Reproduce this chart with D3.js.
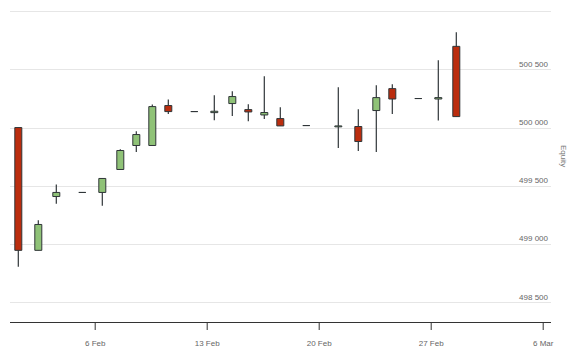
<!DOCTYPE html>
<html>
<head>
<meta charset="utf-8">
<script src="https://cdn.jsdelivr.net/npm/d3@7"></script>
<style>
  html, body { margin: 0; padding: 0; background: #fff; }
  svg { display: block; font-family: "Liberation Sans", Arial, sans-serif; }
</style>
</head>
<body>
<svg id="chart" width="580" height="360"></svg>
<script>
// ---- data ----
const dates = [
  "2023-02-01T05:24", "2023-02-02T11:24", "2023-02-03T14:24", "2023-02-05T05:24",
  "2023-02-06T11:24", "2023-02-07T14:24", "2023-02-08T14:24", "2023-02-09T14:24",
  "2023-02-10T14:24", "2023-02-12T05:24", "2023-02-13T11:24", "2023-02-14T14:24",
  "2023-02-15T14:24", "2023-02-16T14:24", "2023-02-17T14:24", "2023-02-19T05:24",
  "2023-02-21T05:24", "2023-02-22T11:24", "2023-02-23T14:24", "2023-02-24T14:24",
  "2023-02-26T05:24", "2023-02-27T11:24", "2023-02-28T14:24"
];
const opens  = [500000, 498946, 499408, 499443, 499443, 499640, 499846, 499846, 500189, 500137, 500128, 500206, 500154, 500108, 500077, 500017, 500006, 500009, 500146, 500334, 500249, 500245, 500697];
const highs  = [500000, 499205, 499511, 499443, 499563, 499814, 499968, 500197, 500240, 500137, 500277, 500311, 500200, 500440, 500174, 500017, 500346, 500157, 500363, 500371, 500249, 500577, 500817];
const lows   = [498805, 498946, 499345, 499443, 499328, 499640, 499791, 499846, 500117, 500137, 500063, 500099, 500054, 500074, 500014, 500017, 499825, 499799, 499791, 500117, 500249, 500060, 500094];
const closes = [498946, 499168, 499443, 499443, 499563, 499803, 499940, 500180, 500137, 500137, 500140, 500266, 500134, 500129, 500014, 500017, 500014, 499880, 500257, 500245, 500249, 500257, 500094];
const yTicks = [498500, 499000, 499500, 500000, 500500, 501000];
const xTickDates = ["2023-02-06", "2023-02-13", "2023-02-20", "2023-02-27", "2023-03-06"];
const yTitle = "Equity";

// ---- scales ----
const parseT = d3.utcParse("%Y-%m-%dT%H:%M");
const parseD = d3.utcParse("%Y-%m-%d");
const data = dates.map((d, i) => ({
  t: parseT(d), o: opens[i], h: highs[i], l: lows[i], c: closes[i]
}));
const tickDates = xTickDates.map(parseD);

const x = d3.scaleUtc()
  .domain([tickDates[0], tickDates[tickDates.length - 1]])
  .range([94.7, 542.7]);
const y = d3.scaleLinear()
  .domain([498500, 500500])
  .range([302.3, 69.3]);

const plotLeft = 10, plotRight = 551, axisY = 322;

const svg = d3.select("#chart");
const locale = d3.formatLocale({ decimal: ".", thousands: " ", grouping: [3], currency: ["", ""] });
const fmt = locale.format(",d");

// gridlines
svg.append("g").selectAll("line").data(yTicks).join("line")
  .attr("x1", plotLeft).attr("x2", plotRight)
  .attr("y1", d => Math.round(y(d)) + 0.5).attr("y2", d => Math.round(y(d)) + 0.5)
  .attr("stroke", "#e6e6e6").attr("stroke-width", 1);

// y labels (right side, above gridlines)
svg.append("g").selectAll("text").data(yTicks.filter(d => d < 501000)).join("text")
  .attr("x", 548).attr("y", d => y(d) - 2.8)
  .attr("text-anchor", "end")
  .attr("font-size", 8).attr("fill", "#666")
  .text(d => fmt(d));

// y title
svg.append("text")
  .attr("transform", "translate(563.5,156) rotate(90)")
  .attr("text-anchor", "middle").attr("dominant-baseline", "central")
  .attr("font-size", 8).attr("fill", "#777")
  .text(yTitle);

// x axis
const xAxis = d3.axisBottom(x)
  .tickValues(tickDates)
  .tickFormat(d3.utcFormat("%-d %b"))
  .tickSize(8).tickSizeOuter(0).tickPadding(10);
const gx = svg.append("g").attr("transform", `translate(0,${axisY})`).call(xAxis);
gx.select(".domain").remove();
gx.selectAll(".tick line").attr("stroke", "#333");
gx.selectAll(".tick text").attr("font-size", 8).attr("fill", "#666")
  .attr("font-family", "'Liberation Sans', Arial, sans-serif");
gx.append("line").attr("x1", plotLeft).attr("x2", plotRight)
  .attr("y1", 0.5).attr("y2", 0.5).attr("stroke", "#333").attr("stroke-width", 1);

// candles
const bw = 3.5;
const g = svg.append("g");
const candle = g.selectAll("g.c").data(data).join("g").attr("class", "c");
candle.append("line")
  .attr("x1", d => x(d.t)).attr("x2", d => x(d.t))
  .attr("y1", d => y(d.h)).attr("y2", d => y(d.l))
  .attr("stroke", "#2f3538").attr("stroke-width", 1.2);
candle.append("path")
  .attr("d", d => {
    const cx = x(d.t), y0 = y(Math.max(d.o, d.c)), y1 = y(Math.min(d.o, d.c));
    return `M${cx - bw},${y0}H${cx + bw}V${y1}H${cx - bw}Z`;
  })
  .attr("fill", d => d.c < d.o ? "#bb2d0e" : "#8fc277")
  .attr("stroke", "#2f3538").attr("stroke-width", 1);
</script>
</body>
</html>
